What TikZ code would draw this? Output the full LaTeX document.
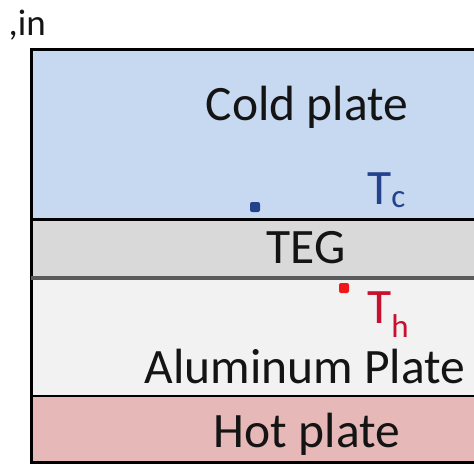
\documentclass[tikz,border=0pt]{standalone}
\usepackage{fontspec}
\setmainfont{Carlito}
\definecolor{coldfill}{HTML}{C6D9F1}
\definecolor{tegfill}{HTML}{D9D9D9}
\definecolor{alufill}{HTML}{F2F2F2}
\definecolor{hotfill}{HTML}{E6B9B8}
\definecolor{tegline}{HTML}{5A5A5A}
\definecolor{labeltext}{HTML}{141414}
\definecolor{coldprobe}{HTML}{24418C}
\definecolor{hotprobe}{HTML}{C8102E}
\definecolor{hotdot}{HTML}{F01818}

\begin{document}
\begin{tikzpicture}[x=1pt, y=-1pt, font=\fontsize{49.5}{52}\selectfont]
	\tikzstyle{borderStyle} = [draw=black, line width=3pt]
	\tikzstyle{labelStyle} = [anchor=base, inner sep=0pt, text=labeltext]
	\tikzstyle{probeStyle} = [shape=rectangle, minimum size=10pt, inner sep=0pt, rounded corners=2pt]
	\useasboundingbox (0,0) rectangle (474,474);
	\fill[coldfill] (31,49) rectangle (480,219);
	\fill[tegfill] (31,219) rectangle (480,278);
	\fill[alufill] (31,278) rectangle (480,396);
	\fill[hotfill] (31,396) rectangle (480,462);
	\draw[borderStyle] (480,49) -- (31,49) -- (31,462) -- (480,462);
	\draw[borderStyle] (31,219) -- (480,219);
	\draw[borderStyle, draw=tegline, line width=4pt] (31,278) -- (480,278);
	\draw[borderStyle, line width=2.5pt] (31,396) -- (480,396);
	\node[labelStyle, anchor=base east, font=\fontsize{37}{40}\selectfont] (inlet) at (46,35) {,in};
	\node[labelStyle] (cold) at (307,120) {Cold plate};
	\node[labelStyle] (teg) at (306,263) {TEG};
	\node[labelStyle] (alu) at (305,383) {Aluminum Plate};
	\node[labelStyle] (hot) at (307,447) {Hot plate};
	\node[probeStyle, fill=coldprobe] (tcdot) at (255,207) {};
	\node[labelStyle, anchor=base west, text=coldprobe] (tc) at (367,204) {T\raisebox{-3pt}{\fontsize{33}{35}\selectfont c}};
	\node[probeStyle, fill=hotdot] (thdot) at (344,288) {};
	\node[labelStyle, anchor=base west, text=hotprobe] (th) at (367,323) {T\raisebox{-14pt}{\fontsize{33}{35}\selectfont h}};
\end{tikzpicture}
\end{document}
